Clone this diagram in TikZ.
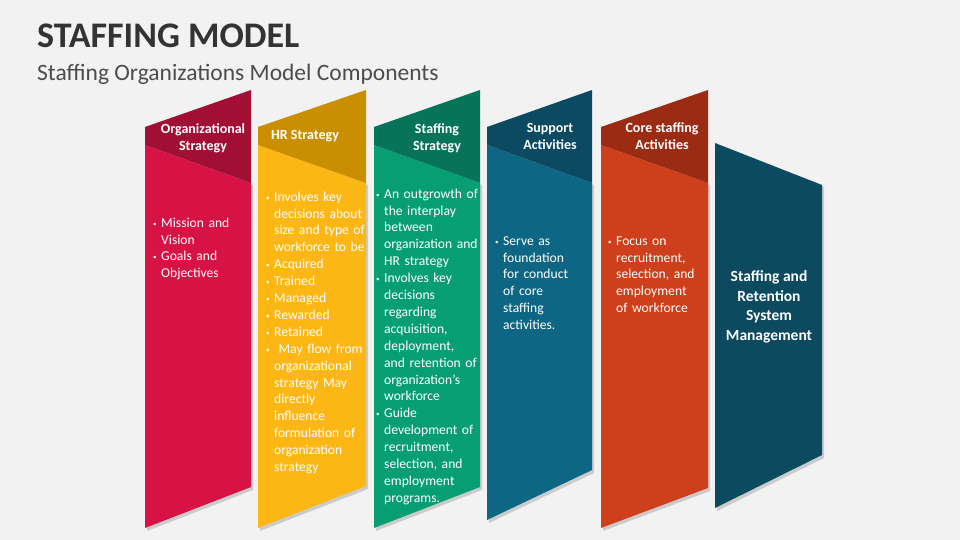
\documentclass[tikz,border=0pt]{standalone}
\usepackage{fontspec}
\setmainfont{Carlito}
\usetikzlibrary{positioning}
\definecolor{bgc}{HTML}{F2F2F2}
\definecolor{redA}{HTML}{D61344}\definecolor{redB}{HTML}{A10F35}
\definecolor{yelA}{HTML}{FDB714}\definecolor{yelB}{HTML}{C98F00}
\definecolor{grnA}{HTML}{079E73}\definecolor{grnB}{HTML}{07735A}
\definecolor{bluA}{HTML}{0E6685}\definecolor{bluB}{HTML}{0C4A62}
\definecolor{orgA}{HTML}{CD401B}\definecolor{orgB}{HTML}{9B2C13}
\definecolor{navA}{HTML}{0C4A60}
\newcommand{\itm}{\par\hangindent=8pt\hangafter=1\noindent\makebox[8pt][l]{\raisebox{1pt}{\scriptsize\textbullet}}}
\newcommand{\nl}{\newline}
\begin{document}
\begin{tikzpicture}[x=1pt,y=-1pt,
    head/.style={text=white,font=\bfseries\fontsize{14}{17}\selectfont,align=center},
    body/.style={text=white,font=\fontsize{13.6}{16.9}\selectfont,anchor=north west,inner sep=0pt,align=left},
    shade/.style={fill=black!35,opacity=0.5}]
  \fill[bgc] (0,0) rectangle (960,540);
  \useasboundingbox (0,0) rectangle (960,540);
  \node[anchor=west,inner sep=0pt,font=\bfseries\fontsize{36}{40}\selectfont,text=black!80] (title) at (37,36) {STAFFING MODEL};
  \node[anchor=west,inner sep=0pt,font=\fontsize{23.5}{26}\selectfont,text=black!70] (sub) at (37,74) {Staffing Organizations Model Components};
  % panels: left x, right x, bottom left y, bottom right y, body colour, header colour
  \foreach \l/\r/\bl/\br/\ca/\cb in {145/251/528/487/redA/redB, 258/366/528/486/yelA/yelB,
      374/480/528/487/grnA/grnB, 487/592/520/470/bluA/bluB, 601/708/528/488/orgA/orgB}{
    \fill[shade] (\l+2,147) -- (\r+2,185) -- (\r+2,\br+3) -- (\l+2,\bl+3) -- cycle;
    \fill[\ca] (\l,145) -- (\r,183) -- (\r,\br) -- (\l,\bl) -- cycle;
    \fill[\cb] (\l,127) -- (\r,90) -- (\r,183) -- (\l,145) -- cycle;
  }
  \fill[shade] (717,145) -- (824,187) -- (824,458) -- (717,511) -- cycle;
  \fill[navA] (715,143) -- (822,185) -- (822,455) -- (715,508) -- cycle;
  % headers
  \node[head] (orghd) at (203,138) {Organizational\\Strategy};
  \node[head] (hrhd) at (305,136) {HR Strategy};
  \node[head] (stafhd) at (437,138) {Staffing\\Strategy};
  \node[head] (suphd) at (550,136) {Support\\Activities};
  \node[head] (corehd) at (662,136) {Core staffing\\Activities};
  % bodies
  \node[body,text width=100pt] (orgbd) at (153,210) {\itm Mission and\nl Vision\itm Goals and\nl Objectives\par};
  \node[body,text width=110pt] (hrbd) at (266,184) {\itm Involves key\nl decisions about\nl size and type of\nl workforce to be\itm Acquired\itm Trained\itm Managed\itm Rewarded\itm Retained\itm \ May flow from\nl organizational\nl strategy May\nl directly\nl influence\nl formulation of\nl organization\nl strategy\par};
  \node[body,text width=110pt] (stafbd) at (376,181) {\itm An outgrowth of\nl the interplay\nl between\nl organization and\nl HR strategy\itm Involves key\nl decisions\nl regarding\nl acquisition,\nl deployment,\nl and retention of\nl organization’s\nl workforce\itm Guide\nl development of\nl recruitment,\nl selection, and\nl employment\nl programs.\par};
  \node[body,text width=100pt] (supbd) at (495,228) {\itm Serve as\nl foundation\nl for conduct\nl of core\nl staffing\nl activities.\par};
  \node[body,text width=105pt] (corebd) at (608,228) {\itm Focus on\nl recruitment,\nl selection, and\nl employment\nl of workforce\par};
  \node[head,font=\bfseries\fontsize{15.5}{19.5}\selectfont] (mgmt) at (769,307) {Staffing and\\Retention\\System\\Management};
\end{tikzpicture}
\end{document}
